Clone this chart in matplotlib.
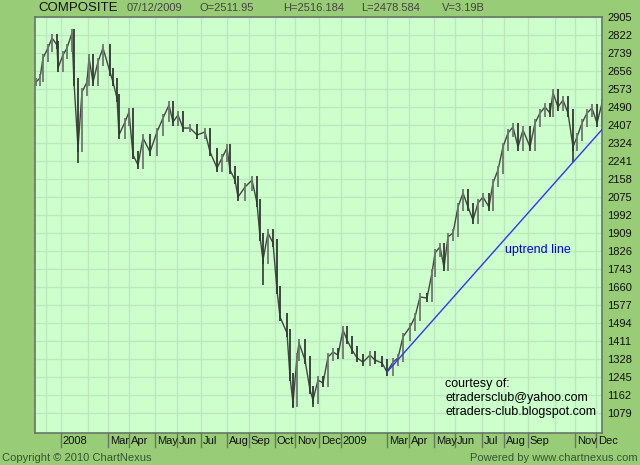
import matplotlib
matplotlib.use("Agg")
import matplotlib.pyplot as plt
import matplotlib.transforms as mtransforms

closes = [2605,2624,2716,2762,2808,2776,2670,2730,2762,2831,2605,2301,2559,2605,2716,2605,2698,2762,2651,2605,2531,2361,2421,2467,2269,2223,2347,2283,2375,2439,2499,2421,2453,2393,2393,2361,2375,2283,2209,2255,2301,
          2200,2153,2075,2121,2153,2047,1891,1785,1909,1863,1646,1522,1448,1245,1125,1337,1402,1323,1185,1139,1231,1217,1337,1360,1346,1462,1416,1370,1333,1314,1346,1323,1310,1268,1314,1333,
          1430,1476,1522,1614,1609,1725,1817,1845,1752,1891,1909,2029,2093,2029,1969,2047,2075,2029,2140,2200,2306,2370,2398,2306,2384,2306,2416,2462,2490,2462,2555,2490,2522,2462,2306,2352,2416,2462,2485,2416,2508]
px = [36,40,43,48,52,57,58,63,67,72,74,78,82,87,89,93,98,103,110,113,117,119,125,129,133,138,143,150,157,163,169,173,178,183,190,197,205,210,217,222,227,
      230,235,238,245,252,257,260,263,268,273,277,280,287,290,293,297,299,305,310,313,318,323,328,333,338,343,347,352,357,363,370,375,382,387,393,398,
      403,410,415,420,427,432,435,440,444,448,453,458,463,468,473,478,483,489,493,498,503,508,513,518,523,530,535,540,545,550,553,558,563,568,573,577,582,587,592,597,602]
spike_px = [78, 263, 293, 313, 573]
spike_low = [2232, 1669, 1102, 1107, 2236]
trend_px = [387, 602]
trend_val = [1268, 2386]

ytick_vals = [1079,1162,1245,1328,1411,1494,1577,1660,1743,1826,1909,1992,2075,2158,2241,2324,2407,2490,2573,2656,2739,2822,2905]
month_labels = ["2008","Mar","Apr","May","Jun","Jul","Aug","Sep","Oct","Nov","Dec","2009","Mar","Apr","May","Jun","Jul","Aug","Sep","Nov","Dec"]
month_px = [61,108,129,155,177,201,227,249,275,295,319,341,387,409,434,455,482,504,528,575,596]
extra_grid_px = [46,88,365,555]

plt.rcParams['font.family'] = ['Liberation Sans', 'DejaVu Sans']

def d(p):
    return (p - 35) / 1.1

outer = "#99cc77"
fig = plt.figure(figsize=(6.4, 4.65), dpi=100, facecolor=outer)
ax = fig.add_axes([35/640, 32/465, 567/640, 416/465], facecolor="#ccffcc")
ax.set_xlim(0, d(602))
ax.set_ylim(2905 - (433-17)*4.611, 2905)

for v in ytick_vals:
    ax.axhline(v, color="#bde8bd", lw=1, zorder=0)
for p in month_px + extra_grid_px:
    ax.axvline(d(p), color="#bde8bd", lw=1, zorder=0)

xs = [d(p) for p in px]
ax.plot(xs, closes, color="#404840", lw=1.0, zorder=2)
prev = closes[0]
for x, c in zip(xs, closes):
    lo, hi = min(prev, c), max(prev, c)
    col = "#333833" if c < prev else "#6f776f"
    ax.vlines(x, lo - 20, hi + 20, color=col, lw=1.3, zorder=2)
    prev = c
for p, lo in zip(spike_px, spike_low):
    j = min(range(len(px)), key=lambda k: abs(px[k] - p))
    ax.vlines(d(p), lo, closes[j], color="#333833", lw=1.2, zorder=2)

ax.plot([d(p) for p in trend_px], trend_val, color="#3333ff", lw=1, zorder=3)

ax.yaxis.tick_right()
ax.set_yticks(ytick_vals)
ax.set_yticklabels([str(v) for v in ytick_vals], fontsize=8, color="#111")
ax.tick_params(axis="y", length=0, pad=4)
ax.set_xticks([])
for s in ax.spines.values():
    s.set_color("#667766")
    s.set_linewidth(1.2)

tr = mtransforms.blended_transform_factory(ax.transData, ax.transAxes)
for lab, p in zip(month_labels, month_px):
    ax.plot([d(p), d(p)], [0, -14/416], transform=tr, color="#667766", lw=1, clip_on=False)
    ax.text(d(p) + 1.5, -8/416, lab, transform=tr, fontsize=8, ha="left", va="center", color="#111")

ax.text(d(505), 1826 + 5, "uptrend line", color="#0000ee", fontsize=9, ha="left", va="center")
for k, t in enumerate(["courtesy of:", "etradersclub@yahoo.com", "etraders-club.blogspot.com"]):
    fig.text(445/640, 1 - (384 + 14*k)/465, t, fontsize=9, color="#000", va="center", ha="left")

fig.text(38/640, 1 - 8/465, "COMPOSITE", fontsize=9.5, color="#111", va="center")
for t, x in [("07/12/2009", 127), ("O=2511.95", 200), ("H=2516.184", 283), ("L=2478.584", 361), ("V=3.19B", 442)]:
    fig.text(x/640, 1 - 8/465, t, fontsize=8, color="#444", va="center")
fig.text(2/640, 1 - 458/465, "Copyright \u00a9 2010 ChartNexus", fontsize=8, color="#335533", va="center")
fig.text(638/640, 1 - 458/465, "Powered by www.chartnexus.com", fontsize=8, color="#335533", va="center", ha="right")

fig.savefig("out.png", dpi=100, facecolor=outer)
